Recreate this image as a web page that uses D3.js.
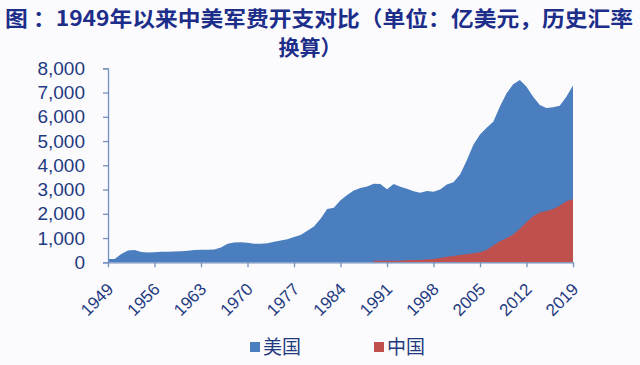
<!DOCTYPE html>
<html>
<head>
<meta charset="utf-8">
<script src="https://cdn.jsdelivr.net/npm/d3@7"></script>
<style>
  html, body { margin: 0; padding: 0; background: #fbfbfd; }
  svg { display: block; }
</style>
</head>
<body>
<div id="chart"></div>
<script>
// ---- Daten (亿美元) ----
const titleLines = ["图 ：1949年以来中美军费开支对比（单位：亿美元，历史汇率", "换算）"];
const seriesNames = ["美国", "中国"];

const usStart = 1949;
const usSpend = [
  135, 135, 340, 490, 505, 420, 400, 410, 430, 440,      // 1949-1958
  450, 455, 480, 510, 520, 520, 525, 610, 760, 820,      // 1959-1968
  825, 805, 760, 770, 785, 850, 900, 950, 1040, 1130,    // 1969-1978
  1300, 1480, 1800, 2200, 2250, 2560, 2780, 2960, 3060, 3130, // 1979-1988
  3240, 3230, 3010, 3230, 3120, 3030, 2930, 2870, 2940, 2910, // 1989-1998
  3000, 3210, 3300, 3620, 4200, 4850, 5270, 5550, 5800, 6420, // 1999-2008
  6970, 7340, 7520, 7240, 6830, 6490, 6360, 6390, 6460, 6830, // 2009-2018
  7290                                                   // 2019
];

const cnStart = 1989;
const cnSpend = [
  60, 60, 62, 65, 68, 80, 92, 100, 118, 137,             // 1989-1998
  175, 225, 260, 300, 330, 370, 412, 510, 690, 870,      // 1999-2008
  990, 1150, 1380, 1650, 1900, 2050, 2120, 2200, 2330, 2520, // 2009-2018
  2600                                                   // 2019
];

const xTicks = [1949, 1956, 1963, 1970, 1977, 1984, 1991, 1998, 2005, 2012, 2019];
const yTicks = [0, 1000, 2000, 3000, 4000, 5000, 6000, 7000, 8000];

// ---- Layout ----
const W = 640, H = 365;
const NAVY = "#1f3a80";
const TITLE = "#1c2d8a";
const AXIS = "#7390bf";
const BLUE = "#4a7ebf", RED = "#c0504d";

const svg = d3.select("#chart").append("svg").attr("width", W).attr("height", H);
svg.append("rect").attr("width", W).attr("height", H).attr("fill", "#fbfbfd");

const x = d3.scaleLinear().domain([1949, 2019]).range([108, 573]);
const y = d3.scaleLinear().domain([0, 8000]).range([262.3, 68.3]);

const toPts = (start, vals) => vals.map((v, i) => ({ year: start + i, value: v }));
const usData = toPts(usStart, usSpend);
const cnData = toPts(cnStart, cnSpend);

const area = d3.area()
  .x(d => x(d.year))
  .y0(y(0))
  .y1(d => y(d.value));

svg.append("path").datum(usData).attr("d", area).attr("fill", BLUE);
svg.append("path").datum(cnData).attr("d", area).attr("fill", RED);

// Y-Achse
const yAxis = svg.append("g")
  .attr("transform", `translate(${x(1949)},0)`)
  .call(d3.axisLeft(y).tickValues(yTicks).tickFormat(d3.format(",")).tickSize(5).tickPadding(18));
yAxis.select(".domain").attr("stroke", AXIS).attr("stroke-width", 1.3);
yAxis.selectAll(".tick line").attr("stroke", AXIS).attr("stroke-width", 1.3);
yAxis.selectAll(".tick text")
  .attr("fill", NAVY)
  .style("font-family", "'Liberation Sans', Arial, sans-serif")
  .style("font-size", "19px");

// X-Achse
const xAxis = svg.append("g")
  .attr("transform", `translate(0,${y(0)})`)
  .call(d3.axisBottom(x).tickValues(xTicks).tickFormat(d3.format("d")).tickSize(5).tickSizeOuter(0));
xAxis.select(".domain").attr("stroke", AXIS).attr("stroke-width", 1.3);
xAxis.selectAll(".tick line").attr("stroke", AXIS).attr("stroke-width", 1.3);
xAxis.selectAll(".tick text")
  .attr("fill", NAVY)
  .attr("y", 0).attr("dy", 0)
  .attr("text-anchor", "end")
  .attr("transform", "translate(6,28) rotate(-45)")
  .style("font-family", "'Liberation Sans', Arial, sans-serif")
  .style("font-size", "17px");

// Titel (zweizeilig)
const title = svg.append("g")
  .style("font-family", "'Noto Sans CJK SC', sans-serif")
  .style("font-weight", 700)
  .style("font-size", "21px")
  .attr("fill", TITLE);
title.append("text")
  .attr("x", 5).attr("y", 26)
  .attr("textLength", 628).attr("lengthAdjust", "spacingAndGlyphs")
  .text(titleLines[0]);
title.append("text")
  .attr("x", 310).attr("y", 55)
  .attr("text-anchor", "middle")
  .text(titleLines[1]);

// Legende
const legend = svg.append("g")
  .style("font-family", "'Noto Sans CJK SC', sans-serif");
const legX = [250, 374];
seriesNames.forEach((name, i) => {
  const g = legend.append("g").attr("transform", `translate(${legX[i]},342)`);
  g.append("rect").attr("width", 10).attr("height", 10).attr("fill", i === 0 ? BLUE : RED);
  g.append("text")
    .attr("x", 13).attr("y", 12)
    .attr("fill", NAVY)
    .style("font-size", "19px")
    .text(name);
});
</script>
</body>
</html>
